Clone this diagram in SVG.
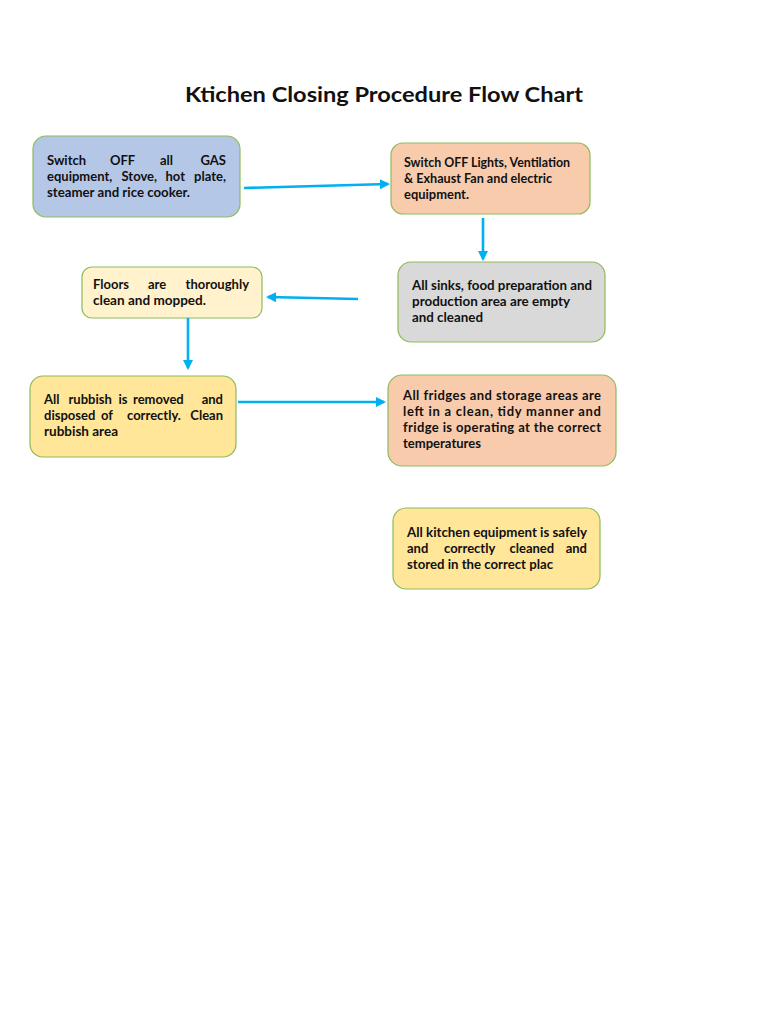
<svg xmlns="http://www.w3.org/2000/svg" width="768" height="1024" viewBox="0 0 768 1024">
<style>
.box{stroke:#8dbb5a;stroke-width:1.2}
.t{font-family:Lato,"Open Sans","Liberation Sans",sans-serif;font-weight:bold;font-size:13px;fill:#111}
.e{text-anchor:end}
.title{font-family:Lato,"Open Sans","Liberation Sans",sans-serif;font-weight:bold;font-size:21px;fill:#111}
.c{stroke:#00b0f0;stroke-width:2.6;fill:none;marker-end:url(#ah)}
</style>
<defs>
<marker id="ah" markerWidth="4" markerHeight="4" refX="3.2" refY="2" orient="auto" markerUnits="strokeWidth">
<path d="M0,0 L4,2 L0,4 Z" fill="#00b0f0"/>
</marker>
</defs>
<rect width="768" height="1024" fill="#fff"/>
<text class="title" x="185" y="102" textLength="398" lengthAdjust="spacingAndGlyphs">Ktichen Closing Procedure Flow Chart</text>

<g id="n1">
<rect class="box" x="33" y="136" width="207" height="81" rx="13" fill="#b4c7e7"/>
<text class="t" y="165"><tspan x="47">Switch</tspan><tspan x="110">OFF</tspan><tspan x="160">all</tspan></text>
<text class="t e" x="226" y="165">GAS</text>
<text class="t" y="181"><tspan x="47">equipment,</tspan><tspan x="121.5">Stove,</tspan><tspan x="165.5">hot</tspan></text>
<text class="t e" x="226" y="181">plate,</text>
<text class="t" x="47" y="197" textLength="143" lengthAdjust="spacingAndGlyphs">steamer and rice cooker.</text>
</g>

<g id="n2">
<rect class="box" x="391" y="143" width="199" height="71" rx="12" fill="#f8cbad"/>
<text class="t" x="404" y="167" textLength="166" lengthAdjust="spacingAndGlyphs">Switch OFF Lights, Ventilation</text>
<text class="t" x="404" y="183" textLength="148" lengthAdjust="spacingAndGlyphs">&amp; Exhaust Fan and electric</text>
<text class="t" x="404" y="199" textLength="65" lengthAdjust="spacingAndGlyphs">equipment.</text>
</g>

<g id="n3">
<rect class="box" x="398" y="262" width="207" height="80" rx="13" fill="#d9d9d9"/>
<text class="t" x="412" y="290" textLength="180" lengthAdjust="spacingAndGlyphs">All sinks, food preparation and</text>
<text class="t" x="412" y="306" textLength="158" lengthAdjust="spacingAndGlyphs">production area are empty</text>
<text class="t" x="412" y="322" textLength="71" lengthAdjust="spacingAndGlyphs">and cleaned</text>
</g>

<g id="n4">
<rect class="box" x="82" y="267" width="180" height="51" rx="10" fill="#fff2cc"/>
<text class="t" y="289"><tspan x="93">Floors</tspan><tspan x="148">are</tspan></text>
<text class="t e" x="249" y="289">thoroughly</text>
<text class="t" x="93" y="305" textLength="113" lengthAdjust="spacingAndGlyphs">clean and mopped.</text>
</g>

<g id="n5">
<rect class="box" x="30" y="376" width="206" height="81" rx="13" fill="#ffe699"/>
<text class="t" y="404"><tspan x="44">All</tspan><tspan x="68.5">rubbish</tspan><tspan x="118.5">is</tspan><tspan x="133">removed</tspan></text>
<text class="t e" x="223" y="404">and</text>
<text class="t" y="420"><tspan x="44">disposed</tspan><tspan x="101">of</tspan><tspan x="127">correctly.</tspan></text>
<text class="t e" x="223" y="420">Clean</text>
<text class="t" x="44" y="436" textLength="74" lengthAdjust="spacingAndGlyphs">rubbish area</text>
</g>

<g id="n6">
<rect class="box" x="388" y="375" width="228" height="91" rx="14" fill="#f8cbad"/>
<text class="t" x="403" y="400" textLength="198" lengthAdjust="spacing">All fridges and storage areas are</text>
<text class="t" x="403" y="416" textLength="198" lengthAdjust="spacing">left in a clean, tidy manner and</text>
<text class="t" x="403" y="432" textLength="198" lengthAdjust="spacing">fridge is operating at the correct</text>
<text class="t" x="403" y="448" textLength="78" lengthAdjust="spacingAndGlyphs">temperatures</text>
</g>

<g id="n7">
<rect class="box" x="393" y="508" width="207" height="81" rx="13" fill="#ffe699"/>
<text class="t" x="407" y="537" textLength="180" lengthAdjust="spacingAndGlyphs">All kitchen equipment is safely</text>
<text class="t" y="553"><tspan x="407">and</tspan><tspan x="444">correctly</tspan><tspan x="509.5">cleaned</tspan></text>
<text class="t e" x="587" y="553">and</text>
<text class="t" x="407" y="569" textLength="146" lengthAdjust="spacingAndGlyphs">stored in the correct plac</text>
</g>

<g id="connectors">
<path class="c" d="M244,188 L388,184"/>
<path class="c" d="M483,218 L483,259"/>
<path class="c" d="M358,299 L268,297"/>
<path class="c" d="M188,318 L188,368"/>
<path class="c" d="M238,402 L384,402"/>
</g>
</svg>
